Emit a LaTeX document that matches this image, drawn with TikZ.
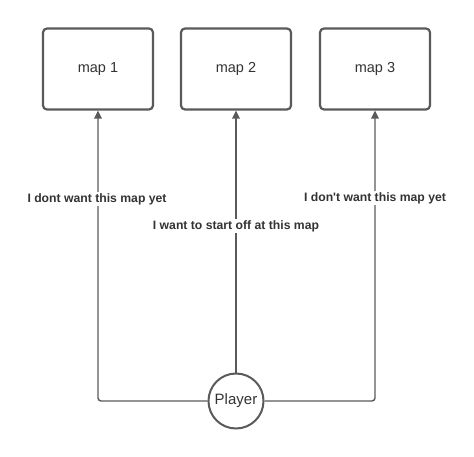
\documentclass[tikz,border=0pt]{standalone}
\usepackage{fontspec}
\setmainfont{Liberation Sans}
\usetikzlibrary{arrows.meta}
\definecolor{linec}{HTML}{5A5A5A}
\definecolor{textc}{HTML}{333333}
\begin{document}
\begin{tikzpicture}[x=1pt,y=-1pt,
  mapbox/.style={draw=linec,line width=2.2pt,rounded corners=4pt,minimum width=110pt,minimum height=81pt,inner sep=0pt,font=\fontsize{14.5}{16}\selectfont,text=textc},
  playernode/.style={circle,draw=linec,line width=2pt,minimum size=55pt,inner sep=0pt,font=\fontsize{15}{17}\selectfont,text=textc},
  conn/.style={draw=linec,line width=1.4pt,rounded corners=3pt,-{Triangle[length=8pt,width=7.5pt]}},
  lbl/.style={fill=white,inner sep=1.5pt,font=\bfseries\fontsize{12.2}{14}\selectfont,text=textc}]
\useasboundingbox (0,0) rectangle (474,457);
\node[mapbox] (m1) at (98,69) {map 1};
\node[mapbox] (m2) at (236,69) {map 2};
\node[mapbox] (m3) at (375,69) {map 3};
\node[playernode] (p) at (236,401) {Player};
\draw[conn] (p.west) -| (m1.south);
\draw[conn] (p.north) -- (m2.south);
\draw[conn] (p.east) -| (m3.south);
\node[lbl] (l1) at (97,199) {I dont want this map yet};
\node[lbl] (l2) at (236,226) {I want to start off at this map};
\node[lbl] (l3) at (375,198) {I don\textquotesingle t want this map yet};
\end{tikzpicture}
\end{document}
